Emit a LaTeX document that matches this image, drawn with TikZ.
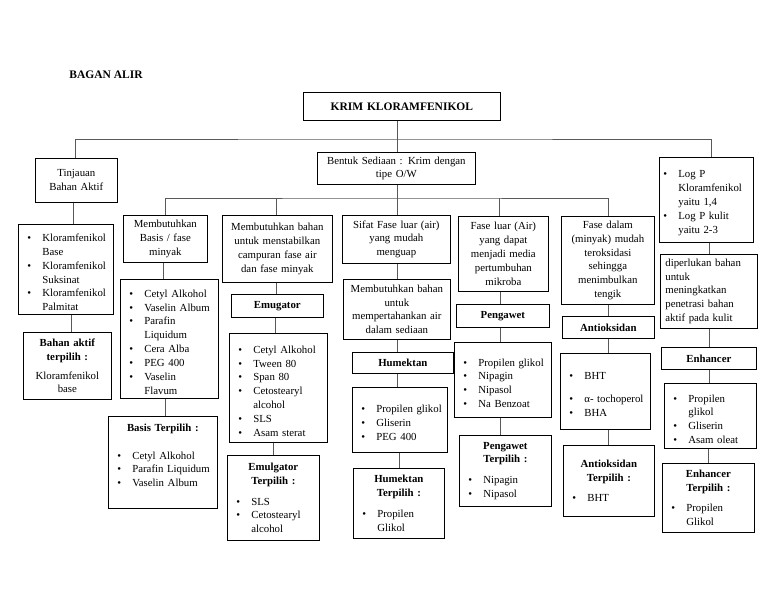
\documentclass[tikz,border=0pt]{standalone}
\usepackage{fontspec}
\setmainfont{Liberation Serif}
\setlength{\parindent}{0pt}
\newcommand{\isi}{\fontsize{10.8}{13.8}\selectfont}
\newcommand{\butir}[2][7pt]{\par\hangindent=\dimexpr#1+15pt\relax\hangafter=1\noindent\hspace*{#1}\makebox[15pt][l]{\textbullet}#2\par}
\newcommand{\kepala}[2][7pt]{{\centering\bfseries #2\par}\vspace{#1}}

\begin{document}
\begin{tikzpicture}[x=1pt,y=-1pt,
    kotak/.style={draw, line width=0.7pt, anchor=north west, inner xsep=2pt, inner ysep=0pt, align=center, font=\isi},
    daftar/.style={kotak, align=left},
    tajuk/.style={kotak, font=\isi\bfseries},
    garis/.style={draw=black!65, line width=0.6pt}]
    \path[use as bounding box] (0,0) rectangle (768,594);

    \node[font=\fontsize{11.5}{14}\selectfont\bfseries] (judul) at (106,75) {BAGAN ALIR};
    \node[kotak, font=\fontsize{11.5}{14}\selectfont\bfseries, text width=193pt, minimum height=28pt] (krim) at (303,92) {KRIM KLORAMFENIKOL};

    % baris atas
    \node[kotak, text width=78pt, minimum height=44pt] (tinjauan) at (35,158) {Tinjauan\\Bahan Aktif};
    \node[kotak, text width=154pt, minimum height=32pt] (bentuk) at (317,152) {Bentuk Sediaan : Krim dengan\\tipe O/W};
    \node[daftar, text width=90pt, minimum height=85pt] (logp) at (659,157) {\butir[2pt]{Log P\newline Kloramfenikol\newline yaitu 1,4}\butir[2pt]{Log P kulit\newline yaitu 2-3}};

    % kolom 1
    \node[daftar, text width=91pt, minimum height=90pt] (zataktif) at (18,224) {\butir{Kloramfenikol\newline Base}\butir{Kloramfenikol\newline Suksinat}\butir{Kloramfenikol\newline Palmitat}};
    \node[kotak, text width=84pt, minimum height=67pt] (aktifpilih) at (23,332) {\textbf{Bahan aktif}\\\textbf{terpilih :}\\[5pt]Kloramfenikol\\base};

    % kolom 2
    \node[kotak, text width=80pt, minimum height=47pt] (basis) at (123,215) {Membutuhkan\\Basis / fase\\minyak};
    \node[daftar, text width=94pt, minimum height=119pt] (bahanbasis) at (120,279) {\butir{Cetyl Alkohol}\butir{Vaselin Album}\butir{Parafin\newline Liquidum}\butir{Cera Alba}\butir{PEG 400}\butir{Vaselin\newline Flavum}};
    \node[daftar, text width=105pt, minimum height=92pt] (basispilih) at (108,416) {\kepala[14pt]{Basis Terpilih :}\butir{Cetyl Alkohol}\butir{Parafin Liquidum}\butir{Vaselin Album}\vspace{14pt}\hrule height 0pt width 0pt};

    % kolom 3
    \node[kotak, text width=106pt, minimum height=67pt] (emulsi) at (222,215) {Membutuhkan bahan\\untuk menstabilkan\\campuran fase air\\dan fase minyak};
    \node[tajuk, text width=88pt, minimum height=23pt] (emugator) at (231,294) {Emugator};
    \node[daftar, text width=94pt, minimum height=109pt] (bahanemulgator) at (229,333) {\butir{Cetyl Alkohol}\butir{Tween 80}\butir{Span 80}\butir{Cetostearyl\newline alcohol}\butir{SLS}\butir{Asam sterat}};
    \node[daftar, text width=88pt, minimum height=85pt] (emulgatorpilih) at (227,455) {\kepala{Emulgator\\Terpilih :}\butir{SLS}\butir{Cetostearyl\newline alcohol}};

    % kolom 4
    \node[kotak, text width=104pt, minimum height=48pt] (sifat) at (342,215) {Sifat Fase luar (air)\\yang mudah\\menguap};
    \node[kotak, text width=103pt, minimum height=60pt] (tahanair) at (343,279) {Membutuhkan bahan\\untuk\\mempertahankan air\\dalam sediaan};
    \node[tajuk, text width=97pt, minimum height=21pt] (humektan) at (352,352) {Humektan};
    \node[daftar, text width=91pt, minimum height=65pt] (bahanhumektan) at (352,387) {\butir{Propilen glikol}\butir{Gliserin}\butir{PEG 400}};
    \node[daftar, text width=87pt, minimum height=70pt] (humektanpilih) at (353,468) {\kepala{Humektan\\Terpilih :}\butir{Propilen\newline Glikol}};

    % kolom 5
    \node[kotak, text width=86pt, minimum height=75pt] (faseluar) at (458,216) {Fase luar (Air)\\yang dapat\\menjadi media\\pertumbuhan\\mikroba};
    \node[tajuk, text width=89pt, minimum height=23pt] (pengawet) at (456,304) {Pengawet};
    \node[daftar, text width=93pt, minimum height=75pt] (bahanpengawet) at (454,342) {\butir{Propilen glikol}\butir{Nipagin}\butir{Nipasol}\butir{Na Benzoat}};
    \node[daftar, text width=88pt, minimum height=71pt] (pengawetpilih) at (459,435) {\kepala{Pengawet\\Terpilih :}\butir{Nipagin}\butir{Nipasol}};

    % kolom 6
    \node[kotak, text width=89pt, minimum height=88pt] (fasedalam) at (561,216) {Fase dalam\\(minyak) mudah\\teroksidasi\\sehingga\\menimbulkan\\tengik};
    \node[tajuk, text width=88pt, minimum height=22pt] (antioksidan) at (562,316) {Antioksidan};
    \node[daftar, text width=86pt, minimum height=76pt] (bahanantioksidan) at (560,353) {\butir{BHT}\vspace{9pt}\butir{α- tochoperol}\butir{BHA}};
    \node[daftar, text width=87pt, minimum height=71pt] (antioksidanpilih) at (563,445) {\kepala{Antioksidan\\Terpilih :}\butir{BHT}};

    % kolom 7
    \node[kotak, align=left, inner xsep=5pt, text width=87pt, minimum height=74pt] (penetrasi) at (660,254) {diperlukan bahan\\untuk\\meningkatkan\\penetrasi bahan\\aktif pada kulit};
    \node[tajuk, text width=91pt, minimum height=22pt] (enhancer) at (661,347) {Enhancer};
    \node[daftar, text width=88pt, minimum height=65pt] (bahanenhancer) at (664,383) {\butir{Propilen\newline glikol}\butir{Gliserin}\butir{Asam oleat}};
    \node[daftar, text width=88pt, minimum height=69pt] (enhancerpilih) at (662,463) {\kepala{Enhancer\\Terpilih :}\butir{Propilen\newline Glikol}};

    % garis penghubung
    \coordinate (cabang1) at (397,139);
    \coordinate (cabang2) at (397,198);
    \draw[garis] (397,0 |- krim.south) -- (397,0 |- bentuk.north);
    \draw[garis] (397,0 |- bentuk.south) -- (397,0 |- sifat.north);
    \draw[garis] (75,0 |- tinjauan.north) |- (cabang1) -| (711,0 |- logp.north);
    \draw[garis] (165,0 |- basis.north) |- (cabang2) -| (608,0 |- fasedalam.north);
    \foreach \xx/\bawah in {276/emulsi, 499/faseluar}
        \draw[garis] (\xx,0 |- \bawah.north) -- (\xx,0 |- cabang2);
    \foreach \atas/\bawah/\xx in {tinjauan/zataktif/73, zataktif/aktifpilih/71,
        basis/bahanbasis/163, bahanbasis/basispilih/165,
        emulsi/emugator/276, emugator/bahanemulgator/275, bahanemulgator/emulgatorpilih/273,
        sifat/tahanair/397, tahanair/humektan/397, humektan/bahanhumektan/397, bahanhumektan/humektanpilih/399,
        faseluar/pengawet/500, pengawet/bahanpengawet/500, bahanpengawet/pengawetpilih/500,
        fasedalam/antioksidan/608, antioksidan/bahanantioksidan/608, bahanantioksidan/antioksidanpilih/608,
        logp/penetrasi/709, penetrasi/enhancer/709, enhancer/bahanenhancer/709, bahanenhancer/enhancerpilih/708}
        \draw[garis] (\xx,0 |- \atas.south) -- (\xx,0 |- \bawah.north);
\end{tikzpicture}
\end{document}
